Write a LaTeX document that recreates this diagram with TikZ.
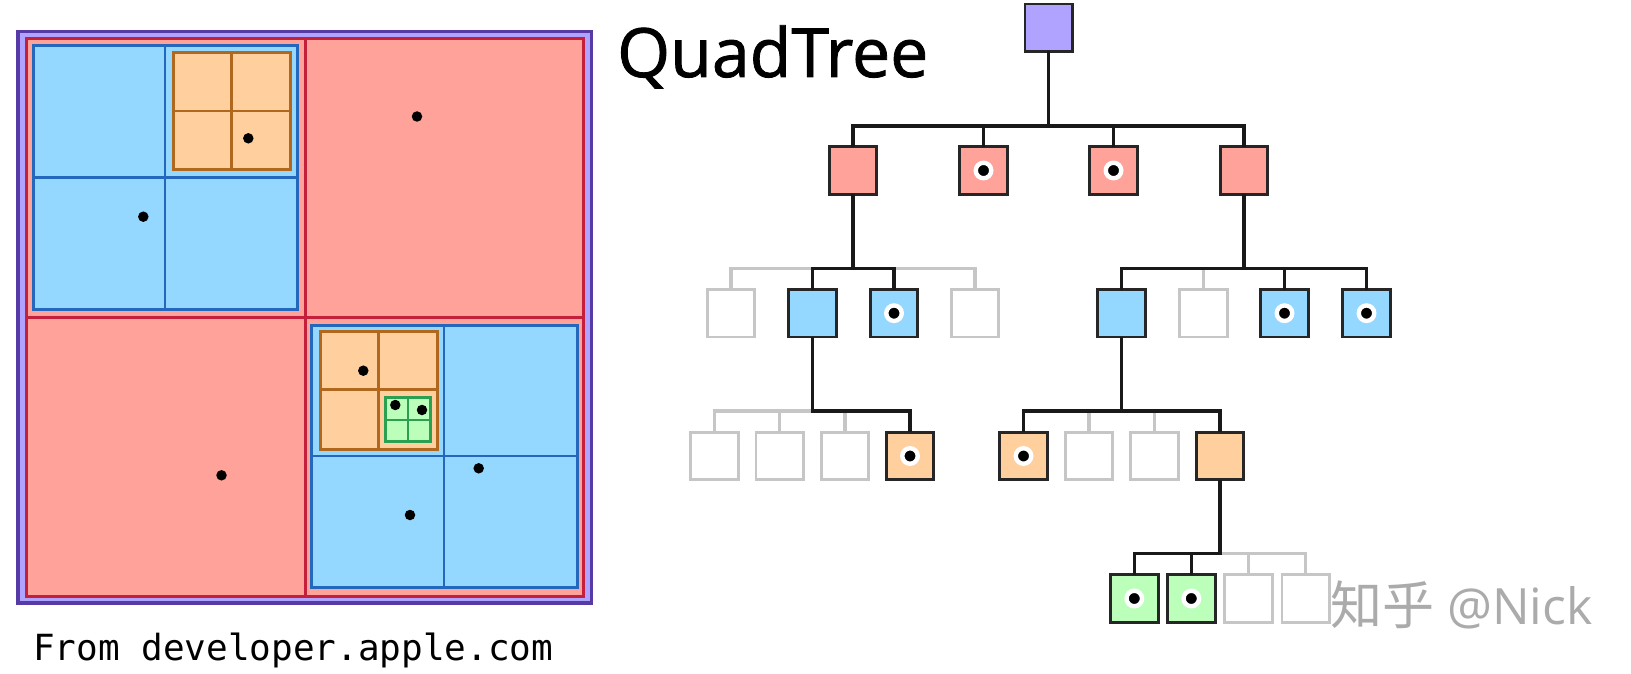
\documentclass[tikz,border=0pt]{standalone}
\usepackage{fontspec}
\setmainfont{Open Sans}
\newfontfamily\titlefont[FakeBold=1.2]{Open Sans}
\newfontfamily\codefont{DejaVu Sans Mono}
\newfontfamily\cjkfont{Noto Sans CJK SC}
\definecolor{pfill}{HTML}{B0A2FF}\definecolor{pline}{HTML}{563AA6}
\definecolor{rfill}{HTML}{FFA299}\definecolor{rline}{HTML}{C4203C}
\definecolor{bfill}{HTML}{94D8FF}\definecolor{bline}{HTML}{2468BE}
\definecolor{ofill}{HTML}{FFCF9E}\definecolor{oline}{HTML}{B0681E}
\definecolor{gfill}{HTML}{BBFFBB}\definecolor{gline}{HTML}{2AA050}
\definecolor{offc}{HTML}{C6C6C6}
\definecolor{wmc}{HTML}{ABABAB}
\tikzset{
  pip/.style={circle,fill=black,inner sep=0pt,minimum size=10.5pt},
  sq/.style={rectangle,minimum size=47.6pt,inner sep=0pt,line width=2.8pt,draw=#1},
  onp/.style={sq=black!85,fill=pfill},
  onr/.style={sq=black!85,fill=rfill},
  onb/.style={sq=black!85,fill=bfill},
  ono/.style={sq=black!85,fill=ofill},
  ong/.style={sq=black!85,fill=gfill},
  off/.style={sq=offc,fill=white},
  leafpip/.style={circle,fill=black,draw=white,line width=4.4pt,inner sep=0pt,minimum size=15.5pt},
  livewire/.style={draw=black!90,line width=3.3pt,line cap=rect},
  deadwire/.style={draw=offc,line width=3.3pt,line cap=rect},
}
\begin{document}
\begin{tikzpicture}[x=1pt,y=-1pt]
\useasboundingbox[fill=white] (0,0) rectangle (1631,674);
% ---- spatial panel
\filldraw[fill=pfill,draw=pline,line width=3.6pt] (18,31.5) rectangle (591.5,603);
\filldraw[fill=rfill,draw=rline,line width=3pt] (26,38.5) rectangle (583,596);
\draw[rline,line width=3pt] (305,38.5) -- (305,596) (26,317) -- (583,317);
% top-left blue
\filldraw[fill=bfill,draw=bline,line width=3pt] (33,46) rectangle (297.5,309.5);
\draw[bline,line width=2.8pt] (165,46) -- (165,309.5) (33,177.5) -- (297.5,177.5);
\filldraw[fill=ofill,draw=oline,line width=3pt] (173,53) rectangle (290.5,170);
\draw[oline,line width=2.6pt] (231.7,53) -- (231.7,170) (173,111) -- (290.5,111);
% bottom-right blue
\filldraw[fill=bfill,draw=bline,line width=3pt] (311.7,325) rectangle (577,587.7);
\draw[bline,line width=2pt] (444,325) -- (444,587.7) (311.7,456.3) -- (577,456.3);
\filldraw[fill=ofill,draw=oline,line width=3pt] (320,331) rectangle (437.3,449);
\draw[oline,line width=2.6pt] (378.3,331) -- (378.3,449) (320,389.7) -- (437.3,389.7);
\filldraw[fill=gfill,draw=gline,line width=3pt] (385,397.7) rectangle (430.3,441.7);
\draw[gline,line width=2.2pt] (407.7,397.7) -- (407.7,441.7) (385,420) -- (430.3,420);
% points
\foreach \i/\px/\py in {a/417/116.5,b/248.3/138.3,c/143.3/216.7,d/221.5/475.3,e/363.3/370.7,f/395.3/405,g/422/410,h/478.7/468.3,i/410/515}
  \node[pip] (pt\i) at (\px,\py) {};
% ---- labels
\node[anchor=base west,inner sep=0pt,font=\codefont\fontsize{36}{36}\selectfont] (src) at (33,660) {From developer.apple.com};
\node[anchor=base west,inner sep=0pt,font=\titlefont\fontsize{68}{68}\selectfont] (title) at (617,77) {QuadTree};
% ---- tree nodes
\node[onp] (r) at (1048.7,27.8) {};
\foreach \n/\cx/\st in {aa/853/onr,ab/983.5/onr,ac/1113.5/onr,ad/1244/onr}
  \node[\st] (\n) at (\cx,170.5) {};
\foreach \n/\cx/\st in {ba/731/off,bb/812.3/onb,bc/894/onb,bd/975/off,be/1121.5/onb,bf/1203.5/off,bg/1284.5/onb,bh/1366.5/onb}
  \node[\st] (\n) at (\cx,313.2) {};
\foreach \n/\cx/\st in {ca/714.3/off,cb/779.7/off,cc/845/off,cd/910/ono,ce/1023.5/ono,cf/1089/off,cg/1154.5/off,ch/1220/ono}
  \node[\st] (\n) at (\cx,456) {};
\foreach \n/\cx/\st in {da/1134.3/ong,db/1191.3/ong,dc/1248.3/off,dd/1305.7/off}
  \node[\st] (\n) at (\cx,598.5) {};
% bus junctions
\coordinate (j0) at (r.south |- 0,126);
\coordinate (j1) at (aa.south |- 0,268.7);
\coordinate (j2) at (ad.south |- 0,268.7);
\coordinate (j3) at (bb.south |- 0,411);
\coordinate (j4) at (be.south |- 0,411);
\coordinate (j5) at (ch.south |- 0,553.3);
% dead wires first
\foreach \p/\c in {j1/ba,j1/bd,j2/bf,j3/ca,j3/cb,j3/cc,j4/cf,j4/cg,j5/dc,j5/dd}
  \draw[deadwire] (\p) -| (\c.north);
\draw[livewire] (r.south) -- (j0);
\foreach \c in {aa,ab,ac,ad} \draw[livewire] (j0) -| (\c.north);
\draw[livewire] (aa.south) -- (j1);
\foreach \c in {bb,bc} \draw[livewire] (j1) -| (\c.north);
\draw[livewire] (ad.south) -- (j2);
\foreach \c in {be,bg,bh} \draw[livewire] (j2) -| (\c.north);
\draw[livewire] (bb.south) -- (j3);
\draw[livewire] (j3) -| (cd.north);
\draw[livewire] (be.south) -- (j4);
\foreach \c in {ce,ch} \draw[livewire] (j4) -| (\c.north);
\draw[livewire] (ch.south) -- (j5);
\foreach \c in {da,db} \draw[livewire] (j5) -| (\c.north);
% leaf marks
\foreach \c in {ab,ac,bc,bg,bh,cd,ce,da,db}
  \node[leafpip] (m\c) at (\c) {};
% watermark
\node[anchor=base west,inner sep=0pt,text=wmc,font=\fontsize{50}{50}\selectfont] (wm) at (1330,624) {{\cjkfont\fontsize{52}{52}\selectfont 知乎} @Nick};
\end{tikzpicture}
\end{document}
